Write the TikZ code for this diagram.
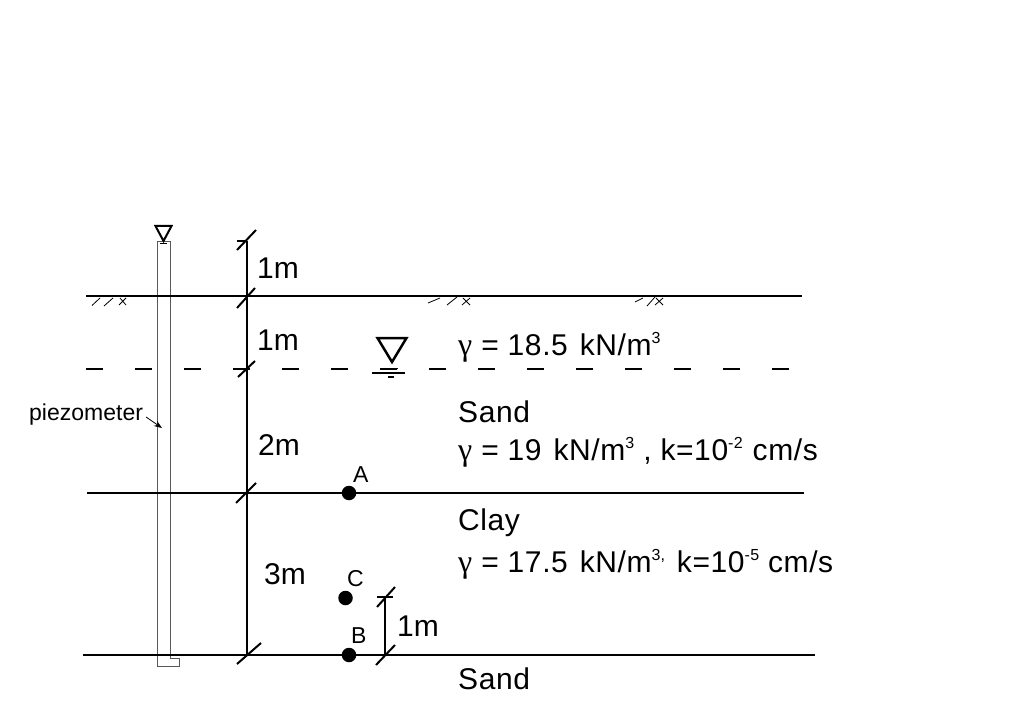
\documentclass[tikz,border=0pt]{standalone}
\usepackage{fontspec}
\setmainfont{Liberation Sans}
\newfontfamily\gamfont{Liberation Serif}
\newfontfamily\spacedfont[LetterSpace=2]{Liberation Sans}
\usetikzlibrary{arrows.meta}
\newcommand{\gam}{{\gamfont\fontsize{32}{32}\selectfont γ}}
\newcommand{\upidx}[1]{\raisebox{0.4em}{\fontsize{16}{16}\selectfont #1}}
\tikzset{
  soil/.style={line width=2.2pt,black},
  dim/.style={line width=2pt,black},
  hatch/.style={line width=0.8pt,black},
  pipe/.style={line width=1pt,black!65},
  big/.style={anchor=base west,inner sep=0pt,font=\fontsize{30}{30}\selectfont},
  wide/.style={anchor=base west,inner sep=0pt,font=\fontsize{30}{30}\spacedfont},
  small/.style={anchor=base west,inner sep=0pt,font=\fontsize{23}{23}\selectfont},
  point/.style={circle,fill=black,inner sep=0pt,minimum size=14.5pt},
  wt/.style={line width=2pt,black,line join=miter}
}
\begin{document}
\begin{tikzpicture}[x=1pt,y=-1pt]
\useasboundingbox (0,0) rectangle (1033,703);
% level coordinates
\coordinate (g1) at (86,296); \coordinate (g2) at (802,296);
\coordinate (w1) at (86,369); \coordinate (w2) at (795,369);
\coordinate (c1) at (87,493); \coordinate (c2) at (804,493);
\coordinate (s1) at (83,655); \coordinate (s2) at (815,655);
\coordinate (vt) at (246.5,241); \coordinate (vb) at (246.5,655);
\coordinate (dt) at (385,597); \coordinate (db) at (385,655);
% piezometer
\coordinate (p1) at (157,666.5); \coordinate (p2) at (157,241.5);
\coordinate (p3) at (170,241.5); \coordinate (p4) at (170,658);
\coordinate (p5) at (179.5,658); \coordinate (p6) at (179.5,666.5);
\draw[pipe] (p1) -- (p2) -- (p3) -- (p4) -- (p5) -- (p6) -- cycle;
% layers
\draw[soil] (g1) -- (g2);
\draw[soil] (c1) -- (c2);
\draw[soil] (s1) -- (s2);
\draw[line width=2pt,dash pattern=on 17pt off 32pt] (w1) -- (w2);
\draw[dim] (vt) -- (vb);
% ticks
\draw[dim] (237,250) -- (256,230);
\draw[dim] (237,241) -- (247,241);
\draw[dim] (237,308) -- (255,288);
\draw[dim] (238,377) -- (255,361);
\draw[dim] (236,503) -- (256,483);
\draw[dim] (237,664) -- (261,643);
% 1m dim
\draw[dim] (dt) -- (db);
\draw[dim] (377,607) -- (395,587);
\draw[dim] (377,597) -- (393,597);
\draw[dim] (376,665) -- (395,645);
% ground hatches
\draw[hatch] (92,305.5) -- (100,298) (104,306) -- (113,298) (119,305) -- (126,298) (120,298) -- (126,305);
\draw[hatch] (428,303) -- (440,298) (447,305) -- (457,297) (462,305) -- (470,298) (463,298) -- (470,305);
\draw[hatch] (635,302) -- (643,298) (647,306) -- (655,297) (655,305) -- (663,298) (656,298) -- (663,305);
% top water mark
\draw[wt] (155.5,226) -- (171.5,226) -- (163.5,241) -- cycle;
\draw[line width=1.6pt] (160,243.5) -- (167,243.5);
% water table mark
\draw[line width=2.5pt,line join=miter] (377.5,338) -- (406.5,338) -- (392,362) -- cycle;
\draw[line width=1.8pt] (387,368.5) -- (398,368.5);
\draw[line width=1.8pt] (372,373) -- (405,373);
\draw[line width=1.8pt] (388,377) -- (394,377);
% points
\node[point] (A) at (349,493) {};
\node[point] (C) at (345.5,598) {};
\node[point] (B) at (349,655) {};
% labels
\node[big] (l1) at (257,279) {1m};
\node[big] (l2) at (257,350) {1m};
\node[big] (l3) at (258,455) {2m};
\node[big] (l4) at (264,584) {3m};
\node[big] (l5) at (397,636) {1m};
\node[small] (la) at (353,482) {A};
\node[small] (lc) at (347,586) {C};
\node[small] (lb) at (351,643) {B};
\node[wide] (t1) at (458,355) {\gam\ = 18.5\kern3pt{} kN/m\upidx{3}};
\node[wide] (t2) at (458,422) {Sand};
\node[wide] (t3) at (458,460) {\gam\ = 19\kern3pt{} kN/m\upidx{3} , k=10\upidx{-2} \kern1pt{}cm/s};
\node[wide] (t4) at (458,530) {Clay};
\node[wide] (t5) at (458,572) {\gam\ = 17.5\kern3pt{} kN/m\upidx{3}\upidx{,}\kern3pt{} k=10\upidx{-5} cm/s};
\node[wide] (t6) at (458,689) {Sand};
\node[small] (pz) at (29,420) {piezometer};
\coordinate (pa) at (162,428);
\draw[line width=0.8pt,-{Stealth[length=8pt,width=6pt]}] (pz.east) ++(3,3) -- (pa);
\end{tikzpicture}
\end{document}
